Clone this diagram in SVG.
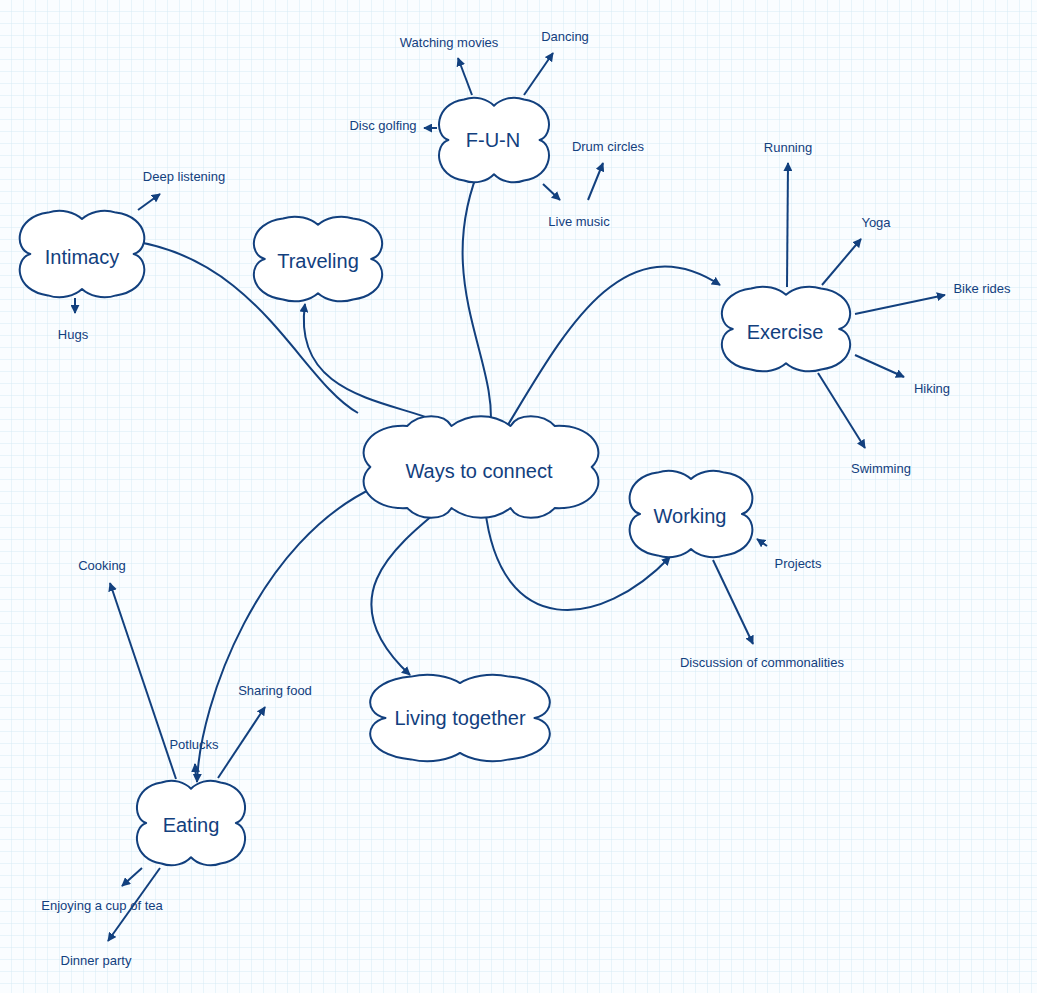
<svg xmlns="http://www.w3.org/2000/svg" width="1037" height="993" viewBox="0 0 1037 993">
<defs>
<pattern id="g" width="12" height="12" patternUnits="userSpaceOnUse"><path d="M12 0V12H0" fill="none" stroke="#d6ebf5" stroke-width="1"/></pattern>
<marker id="a" viewBox="0 0 10 10" refX="9" refY="5" markerWidth="9" markerHeight="9" markerUnits="userSpaceOnUse" orient="auto"><path d="M0,0L10,5L0,10Z" fill="#12407e"/></marker>
<path id="c2" vector-effect="non-scaling-stroke" d="M0.12,0.5 C0,0.45 0,0.1 0.25,0.05 C0.35,0 0.45,0.05 0.5,0.12 C0.55,0.05 0.65,0 0.75,0.05 C1,0.1 1,0.45 0.88,0.5 C1,0.55 1,0.9 0.75,0.95 C0.65,1 0.55,0.95 0.5,0.88 C0.45,0.95 0.35,1 0.25,0.95 C0,0.9 0,0.55 0.12,0.5Z"/>
<path id="c3" vector-effect="non-scaling-stroke" d="M0.05,0.5 C-0.02,0.35 0.05,0.1 0.2,0.12 C0.25,0 0.35,0 0.38,0.12 C0.45,0 0.55,0 0.62,0.12 C0.65,0 0.75,0 0.8,0.12 C0.95,0.1 1.02,0.35 0.95,0.5 C1.02,0.65 0.95,0.9 0.8,0.88 C0.75,1 0.65,1 0.62,0.88 C0.55,1 0.45,1 0.38,0.88 C0.35,1 0.25,1 0.2,0.88 C0.05,0.9 -0.02,0.65 0.05,0.5Z"/>
</defs>
<style>
.cl{fill:#fff;stroke:#12407e;stroke-width:2;stroke-linejoin:round}
.n{font-family:"Liberation Sans",sans-serif;font-size:20px;fill:#12407e;text-anchor:middle;dominant-baseline:central}
.t{font-family:"Liberation Sans",sans-serif;font-size:13px;fill:#12407e;text-anchor:middle;dominant-baseline:central}
#e path{fill:none;stroke:#12407e;stroke-width:2;marker-end:url(#a)}
</style>
<rect width="1037" height="993" fill="#fafdff"/>
<rect width="1037" height="993" fill="url(#g)"/>
<g id="e">
<path d="M358,413 C300,380 260,260 132,241"/>
<path d="M455,432 C420,400 290,410 305,304"/>
<path d="M490,432 C500,360 430,280 482,162"/>
<path d="M503,433 C560,340 620,220 720,285"/>
<path d="M375,487 C260,540 200,700 197,782"/>
<path d="M445,505 C390,550 330,600 410,675"/>
<path d="M485,508 C500,640 600,630 670,557"/>
<path d="M138,210 L160,194"/>
<path d="M75,298 L75,313"/>
<path d="M472,95 L458,58"/>
<path d="M524,95 L553,53"/>
<path d="M437,128 L424,128"/>
<path d="M543,184 L560,200"/>
<path d="M588,200 L603,163"/>
<path d="M787,287 L788,163"/>
<path d="M822,285 L861,239"/>
<path d="M855,314 L945,295"/>
<path d="M855,355 L904,377"/>
<path d="M818,373 L865,448"/>
<path d="M767,546 L757,539"/>
<path d="M713,560 L753,644"/>
<path d="M176,779 L110,583"/>
<path d="M218,778 L265,707"/>
<path d="M196,778 L195,764"/>
<path d="M142,868 L122,886"/>
<path d="M160,868 L108,941"/>
</g>
<g id="ways"><use href="#c3" class="cl" transform="translate(358,413) scale(246,108)"/><text class="n" x="479" y="471">Ways to connect</text></g>
<g id="fun"><use href="#c2" class="cl" transform="translate(434,95) scale(120,90)"/><text class="n" x="493" y="140">F-U-N</text></g>
<g id="intimacy"><use href="#c2" class="cl" transform="translate(14,208) scale(136,92)"/><text class="n" x="82" y="257">Intimacy</text></g>
<g id="traveling"><use href="#c2" class="cl" transform="translate(248,214) scale(140,90)"/><text class="n" x="318" y="261">Traveling</text></g>
<g id="exercise"><use href="#c2" class="cl" transform="translate(716,284) scale(140,90)"/><text class="n" x="785" y="332">Exercise</text></g>
<g id="working"><use href="#c2" class="cl" transform="translate(624,468) scale(134,92)"/><text class="n" x="690" y="516">Working</text></g>
<g id="living"><use href="#c2" class="cl" transform="translate(362,672) scale(196,92)"/><text class="n" x="460" y="718">Living together</text></g>
<g id="eating"><use href="#c2" class="cl" transform="translate(132,778) scale(118,90)"/><text class="n" x="191" y="825">Eating</text></g>
<g id="labels">
<text class="t" x="184" y="176">Deep listening</text>
<text class="t" x="73" y="334">Hugs</text>
<text class="t" x="449" y="42">Watching movies</text>
<text class="t" x="565" y="36">Dancing</text>
<text class="t" x="383" y="125">Disc golfing</text>
<text class="t" x="608" y="146">Drum circles</text>
<text class="t" x="579" y="221">Live music</text>
<text class="t" x="788" y="147">Running</text>
<text class="t" x="876" y="222">Yoga</text>
<text class="t" x="982" y="288">Bike rides</text>
<text class="t" x="932" y="388">Hiking</text>
<text class="t" x="881" y="468">Swimming</text>
<text class="t" x="798" y="563">Projects</text>
<text class="t" x="762" y="662">Discussion of commonalities</text>
<text class="t" x="102" y="565">Cooking</text>
<text class="t" x="275" y="690">Sharing food</text>
<text class="t" x="194" y="744">Potlucks</text>
<text class="t" x="102" y="905">Enjoying a cup of tea</text>
<text class="t" x="96" y="960">Dinner party</text>
</g>
</svg>
